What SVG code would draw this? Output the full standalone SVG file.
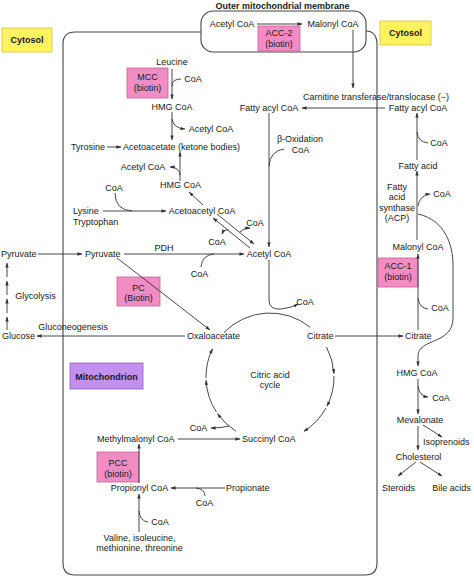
<svg xmlns="http://www.w3.org/2000/svg" width="474" height="577" viewBox="0 0 474 577">
<defs>
<style>
.t{font-family:"Liberation Sans",Arial,Helvetica,sans-serif;font-size:9px;fill:#1a1a1a}
.m{text-anchor:middle}
.b{font-weight:bold}
.ln{fill:none;stroke:#333;stroke-width:0.9}
.ar{marker-end:url(#ah)}
.pink{fill:#f48cc4;stroke:#c8609a;stroke-width:0.8}
.yel{fill:#fff35e;stroke:#d6c445;stroke-width:0.8}
.pur{fill:#c490f0;stroke:#8e60c0;stroke-width:0.8}
.mem{fill:none;stroke:#444;stroke-width:1.1}
</style>
<marker id="ah" viewBox="0 0 6 4" refX="5.5" refY="2" markerWidth="5" markerHeight="3.4" orient="auto" markerUnits="userSpaceOnUse"><path d="M0,0 L6,2 L0,4 z" fill="#333"/></marker>
</defs>
<rect width="474" height="577" fill="#fff"/>

<g id="membranes">
<rect x="201" y="11" width="165" height="41" rx="12" class="mem"/>
<path d="M201,32 H75 Q63,32 63,44 V563 Q63,575 75,575 H365 Q377,575 377,563 V43 Q376,31 366,31" class="mem"/>
<text x="282.5" y="8.5" class="t m b">Outer mitochondrial membrane</text>
</g>

<g id="cytosol-left"><rect x="2" y="28" width="50" height="24" class="yel"/><text x="27" y="43" class="t m b">Cytosol</text></g>
<g id="cytosol-right"><rect x="380" y="21" width="51" height="24" class="yel"/><text x="405.5" y="36" class="t m b">Cytosol</text></g>
<g id="mitochondrion-label"><rect x="70" y="363" width="73" height="26" class="pur"/><text x="106.5" y="380" class="t m b">Mitochondrion</text></g>

<g id="enzymes">
<g id="acc2"><rect x="258" y="26" width="42" height="25" class="pink"/><text x="279" y="35.5" class="t m">ACC-2</text><text x="279" y="46.5" class="t m">(biotin)</text></g>
<g id="mcc"><rect x="127" y="68" width="41" height="30" class="pink"/><text x="147.5" y="80" class="t m">MCC</text><text x="147.5" y="91" class="t m">(biotin)</text></g>
<g id="pc"><rect x="117" y="277" width="43" height="29" class="pink"/><text x="138.5" y="291" class="t m">PC</text><text x="138.5" y="301" class="t m">(Biotin)</text></g>
<g id="acc1"><rect x="378" y="258" width="40" height="29" class="pink"/><text x="398" y="269" class="t m">ACC-1</text><text x="398" y="280" class="t m">(biotin)</text></g>
<g id="pcc"><rect x="97" y="452" width="42" height="30" class="pink"/><text x="118" y="466" class="t m">PCC</text><text x="118" y="477" class="t m">(biotin)</text></g>
</g>

<g id="connectors">
<path d="M257,24 H302" class="ln ar"/>
<path d="M353,30 V88" class="ln ar"/>
<path d="M385,108 H302" class="ln ar"/>
<path d="M172,69 V99" class="ln ar"/>
<path d="M172,86 Q172,79 181,79" class="ln"/>
<path d="M172,112 V140" class="ln ar"/>
<path d="M172,119 Q173,128 185,129" class="ln ar"/>
<path d="M107,147 H121" class="ln ar"/>
<path d="M180,181 V152" class="ln ar"/>
<path d="M180,175 Q179,167 170,167" class="ln ar"/>
<path d="M103,211 H166" class="ln ar"/>
<path d="M115,193 Q115,210 132,211" class="ln"/>
<path d="M203,205 L189,192" class="ln ar"/>
<path d="M250,248 L213,218" class="ln ar"/>
<path d="M217,214 L254,244" class="ln ar"/>
<path d="M240,232 Q243,228 250,228" class="ln ar"/>
<path d="M229,230 Q224,229 222,234" class="ln ar"/>
<path d="M269,113 V247" class="ln ar"/>
<path d="M269,166 Q270,151 284,149" class="ln"/>
<path d="M38,254 H82" class="ln ar"/>
<path d="M124,254 H244" class="ln ar"/>
<path d="M201,267 Q202,255 214,254" class="ln"/>
<path d="M117,258 L210,330" class="ln ar"/>
<path d="M7,330 V317" class="ln ar"/>
<path d="M7,313 V299" class="ln ar"/>
<path d="M7,295 V281" class="ln ar"/>
<path d="M7,277 V263" class="ln ar"/>
<path d="M185,336 H37" class="ln ar"/>
<path d="M269,260 V300 Q269,310 281,309 Q291,308 298,304" class="ln ar"/>
<path d="M335,336 H403" class="ln ar"/>
<path d="M224,332.5 A64,64 0 0 1 310.3,327.3" class="ln"/>
<path d="M326.5,347 A64,64 0 0 1 333.9,373.7" class="ln ar"/>
<path d="M334,375.9 A64,64 0 0 1 327,406.1" class="ln ar"/>
<path d="M326,408 A64,64 0 0 1 303.9,431.3" class="ln ar"/>
<path d="M236.1,431.3 A64,64 0 0 1 217.6,413.7" class="ln ar"/>
<path d="M216.3,411.9 A64,64 0 0 1 206.1,380.3" class="ln ar"/>
<path d="M206,378.1 A64,64 0 0 1 212.5,348.9" class="ln ar"/>
<path d="M229,426 Q222,428 211,428" class="ln ar"/>
<path d="M178,439 H240" class="ln ar"/>
<path d="M139,483 V444" class="ln ar"/>
<path d="M225,488 H171" class="ln ar"/>
<path d="M196,488 Q205,489 205,496" class="ln"/>
<path d="M139,532 V494" class="ln ar"/>
<path d="M139,511 Q140,521 148,522" class="ln"/>
<path d="M417,160 V113" class="ln ar"/>
<path d="M417,132 Q418,142 428,143" class="ln"/>
<path d="M417,240 V171" class="ln ar"/>
<path d="M418,206 Q420,195 430,194" class="ln ar"/>
<path d="M418,214 C445,220 453,245 453,265 V318 C453,345 418,338 418,356 V366" class="ln ar"/>
<path d="M418,330 V254" class="ln ar"/>
<path d="M418,298 Q419,308 428,309" class="ln"/>
<path d="M418,379 V414" class="ln ar"/>
<path d="M418,386 Q419,396 428,397" class="ln ar"/>
<path d="M418,426 V450" class="ln ar"/>
<path d="M423,425 L442,437" class="ln ar"/>
<path d="M416,462 L398,476" class="ln ar"/>
<path d="M420,462 L442,476" class="ln ar"/>
</g>

<g id="n-acetylcoa-outer"><text x="232" y="27" class="t m">Acetyl CoA</text></g>
<g id="n-malonylcoa-outer"><text x="333" y="27" class="t m">Malonyl CoA</text></g>
<g id="n-carnitine"><text x="376" y="100" class="t m">Carnitine transferase/translocase (−)</text></g>
<g id="n-fattyacyl-cyto"><text x="418" y="111" class="t m">Fatty acyl CoA</text></g>
<g id="n-fattyacyl-mito"><text x="269" y="111" class="t m">Fatty acyl CoA</text></g>
<g id="n-leucine"><text x="172" y="65" class="t m">Leucine</text></g>
<g id="n-coa1"><text x="193" y="82" class="t m">CoA</text></g>
<g id="n-hmgcoa1"><text x="172" y="110" class="t m">HMG CoA</text></g>
<g id="n-acetylcoa1"><text x="211" y="132" class="t m">Acetyl CoA</text></g>
<g id="n-tyrosine"><text x="88" y="150" class="t m">Tyrosine</text></g>
<g id="n-acetoacetate"><text x="123" y="150" class="t">Acetoacetate (ketone bodies)</text></g>
<g id="n-acetylcoa2"><text x="143" y="170" class="t m">Acetyl CoA</text></g>
<g id="n-hmgcoa2"><text x="180.5" y="188" class="t m">HMG CoA</text></g>
<g id="n-coa2"><text x="114" y="191" class="t m">CoA</text></g>
<g id="n-lysine"><text x="73" y="214" class="t">Lysine</text><text x="73" y="224.5" class="t">Tryptophan</text></g>
<g id="n-acetoacetylcoa"><text x="202" y="214" class="t m">Acetoacetyl CoA</text></g>
<g id="n-coa3"><text x="255" y="226" class="t m">CoA</text></g>
<g id="n-coa4"><text x="217" y="245" class="t m">CoA</text></g>
<g id="n-boxidation"><text x="300" y="142" class="t m">β-Oxidation</text><text x="300.5" y="153" class="t m">CoA</text></g>
<g id="n-pyruvate-cyto"><text x="1" y="257" class="t">Pyruvate</text></g>
<g id="n-pyruvate-mito"><text x="85" y="257" class="t">Pyruvate</text></g>
<g id="n-pdh"><text x="164" y="251" class="t m">PDH</text></g>
<g id="n-acetylcoa-mito"><text x="269" y="257" class="t m">Acetyl CoA</text></g>
<g id="n-coa5"><text x="199.5" y="277" class="t m">CoA</text></g>
<g id="n-glycolysis"><text x="35.5" y="299" class="t m">Glycolysis</text></g>
<g id="n-gluconeogenesis"><text x="73" y="330" class="t m">Gluconeogenesis</text></g>
<g id="n-glucose"><text x="2" y="339" class="t">Glucose</text></g>
<g id="n-oxaloacetate"><text x="187" y="339" class="t">Oxaloacetate</text></g>
<g id="n-citrate-mito"><text x="307" y="339" class="t">Citrate</text></g>
<g id="n-coa6"><text x="305" y="305" class="t m">CoA</text></g>
<g id="n-cycle"><text x="270" y="378" class="t m">Citric acid</text><text x="270" y="388" class="t m">cycle</text></g>
<g id="n-coa7"><text x="198.5" y="431" class="t m">CoA</text></g>
<g id="n-methylmalonyl"><text x="97" y="442" class="t">Methylmalonyl CoA</text></g>
<g id="n-succinyl"><text x="242" y="442" class="t">Succinyl CoA</text></g>
<g id="n-propionylcoa"><text x="139.5" y="491" class="t m">Propionyl CoA</text></g>
<g id="n-propionate"><text x="226" y="491" class="t">Propionate</text></g>
<g id="n-coa8"><text x="204.5" y="506" class="t m">CoA</text></g>
<g id="n-coa9"><text x="160" y="525" class="t m">CoA</text></g>
<g id="n-valine"><text x="139.5" y="541" class="t m">Valine, isoleucine,</text><text x="139.5" y="551" class="t m">methionine, threonine</text></g>
<g id="n-coa10"><text x="439" y="146" class="t m">CoA</text></g>
<g id="n-fattyacid"><text x="418" y="169" class="t m">Fatty acid</text></g>
<g id="n-fas"><text x="397" y="190" class="t m">Fatty</text><text x="397" y="200" class="t m">acid</text><text x="397" y="211" class="t m">synthase</text><text x="397" y="221" class="t m">(ACP)</text></g>
<g id="n-coa11"><text x="442" y="197" class="t m">CoA</text></g>
<g id="n-malonylcoa-cyto"><text x="418" y="250" class="t m">Malonyl CoA</text></g>
<g id="n-coa12"><text x="440" y="311" class="t m">CoA</text></g>
<g id="n-citrate-cyto"><text x="405" y="339" class="t">Citrate</text></g>
<g id="n-hmgcoa-cyto"><text x="417" y="376" class="t m">HMG CoA</text></g>
<g id="n-coa13"><text x="441" y="401" class="t m">CoA</text></g>
<g id="n-mevalonate"><text x="420" y="423" class="t m">Mevalonate</text></g>
<g id="n-isoprenoids"><text x="423" y="445" class="t">Isoprenoids</text></g>
<g id="n-cholesterol"><text x="418.5" y="460" class="t m">Cholesterol</text></g>
<g id="n-steroids"><text x="398.5" y="491" class="t m">Steroids</text></g>
<g id="n-bileacids"><text x="451.5" y="491" class="t m">Bile acids</text></g>
</svg>
